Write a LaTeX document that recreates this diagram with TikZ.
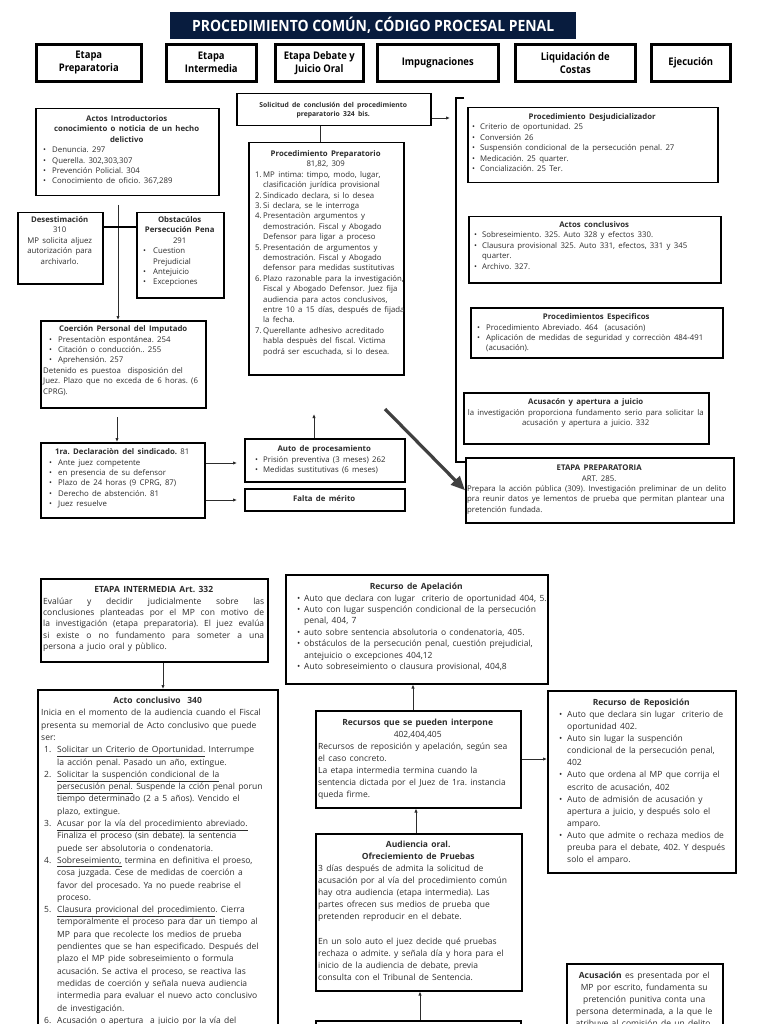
\documentclass[tikz,border=0pt]{standalone}
\usepackage{fontspec}
\setmainfont{Open Sans}
\newfontfamily\condf[FakeStretch=0.9]{Open Sans}
\usetikzlibrary{arrows.meta,calc}
\definecolor{navy}{RGB}{8,28,62}
\definecolor{ink}{RGB}{45,45,45}
\setlength\parindent{0pt}
\setlength\parskip{0pt}
\newcommand\ts{\fontsize{7.8}{10.4}\selectfont\frenchspacing}
\newcommand\bsA{\fontsize{8.5}{12.1}\selectfont\frenchspacing}
\newcommand\bsC{\fontsize{8.5}{12.3}\selectfont\frenchspacing}
\newcommand\bsB{\fontsize{8.5}{11.4}\selectfont\frenchspacing}
\newlength\bi \newlength\bl \newlength\cw \newlength\tw \newlength\bw \newlength\bh
\setlength\bi{4pt}\setlength\bl{9pt}
\newcommand\bul[1]{\par\hangindent=\dimexpr\bi+\bl\relax\hangafter=1\noindent\hspace*{\bi}\makebox[\bl][l]{\textbullet}#1\par}
\newcommand\enu[2]{\par\hangindent=\dimexpr\bi+\bl\relax\hangafter=1\noindent\hspace*{\bi}\makebox[\bl][l]{#1}#2\par}
\newcommand\ctr[1]{\par\noindent\makebox[\cw][c]{#1}\par}
\newcommand\jl[1]{\par\noindent\hbox to\cw{\spaceskip=0.26em plus 1fil\relax #1}\par}
\tikzset{
  frame/.style={draw=black, line width=1.5pt, fill=white, inner sep=0pt, anchor=north west},
  hdr/.style={draw=black, line width=2.6pt, fill=white, anchor=north west, inner sep=0pt,
     minimum height=37pt, align=center, font=\condf\bfseries\fontsize{10.5}{13}\selectfont},
  txt/.style={anchor=north west, inner sep=0pt, align=left, text=ink},
  arr/.style={draw=ink, line width=0.8pt, -{Latex[length=4pt,width=3.4pt]}},
  ln/.style={draw=ink, line width=0.8pt},
  thk/.style={draw=black, line width=1.5pt},
  brk/.style={draw=black, line width=1.6pt},
  big/.style={draw=black!75, line width=3.2pt, -{Triangle[length=14pt,width=12pt]}}
}
% frame box: name, x1, y1, x2, y2
\newcommand\fr[5]{\setlength\bw{\dimexpr#4pt-#2pt\relax}\setlength\bh{\dimexpr#5pt-#3pt\relax}%
  \node[frame, minimum width=\bw, minimum height=\bh] (#1) at (#2,#3) {};}
% text: name, x, y(top), inner width, content
\newcommand\tx[5]{\setlength\tw{\dimexpr#4pt+40pt\relax}%
  \node[txt, text width=\tw] (#1) at (#2,#3) {\setlength\cw{#4pt}#5};}
\begin{document}
\begin{tikzpicture}[x=1pt,y=-1pt]
\useasboundingbox (0,0) rectangle (768,1024);
\fill[white] (0,0) rectangle (768,1024);

% ---------- title and header row
\node[fill=navy, text=white, anchor=north west, minimum width=406pt, minimum height=27pt,
  inner sep=0pt, font=\condf\bfseries\fontsize{15.5}{16}\selectfont] (title) at (170,12)
  {PROCEDIMIENTO COMÚN, CÓDIGO PROCESAL PENAL};
\node[hdr, minimum width=105pt] (h1) at (35,43) {Etapa\\Preparatoria};
\node[hdr, minimum width=90pt]  (h2) at (165,43) {Etapa\\Intermedia};
\node[hdr, minimum width=88pt]  (h3) at (274,43) {Etapa Debate y\\Juicio Oral};
\node[hdr, minimum width=121pt] (h4) at (376,43) {Impugnaciones};
\node[hdr, minimum width=120pt] (h5) at (514,43) {Liquidación de\\Costas};
\node[hdr, minimum width=79pt]  (h6) at (650,43) {Ejecución};

% ---------- left column (top)
\fr{actos}{35}{108}{218}{195}
\tx{actos-t}{39}{111}{175}{\ts\ctr{\textbf{Actos Introductorios}}\ctr{\textbf{conocimiento o noticia de un hecho}}\ctr{\textbf{delictivo}}%
  \setlength\bi{4pt}\setlength\bl{9pt}\bul{Denuncia. 297}\bul{Querella. 302,303,307}\bul{Prevención Policial. 304}\bul{Conocimiento de oficio. 367,289}}

\fr{des}{17}{212}{102}{283}
\tx{des-t}{19}{212}{81}{\ts\ctr{\textbf{Desestimación}}\ctr{310}\ctr{MP solicita aljuez}\ctr{autorización para}\ctr{archivarlo.}}

\fr{obs}{136}{212}{223}{297}
\tx{obs-t}{138}{212}{83}{\ts\ctr{\textbf{Obstacúlos}}\ctr{\textbf{Persecución Pena}}\ctr{291}%
  \setlength\bi{5pt}\setlength\bl{10pt}\bul{Cuestion\newline Prejudicial}\bul{Antejuicio}\bul{Excepciones}}

\fr{coer}{40}{320}{205}{407}
\tx{coer-t}{43}{321}{160}{\ts\ctr{\textbf{Coerción Personal del Imputado}}%
  \setlength\bi{6pt}\setlength\bl{9pt}\bul{Presentaciòn espontánea. 254}\bul{Citación o conducción.. 255}\bul{Aprehensión. 257}%
  Detenido es puestoa\ \ disposición del\newline Juez. Plazo que no exceda de 6 horas. (6\newline CPRG).\par}

\fr{decl}{40}{442}{204}{517}
\tx{decl-t}{43}{444}{158}{\ts\ctr{\textbf{1ra. Declaraciòn del sindicado.} 81}%
  \setlength\bi{6pt}\setlength\bl{9pt}\bul{Ante juez competente}\bul{en presencia de su defensor}\bul{Plazo de 24 horas (9 CPRG, 87)}\bul{Derecho de abstención. 81}\bul{Juez resuelve}}

% ---------- middle column (top)
\fr{sol}{236}{93}{430}{125}
\tx{sol-t}{238}{98}{190}{\fontsize{6.8}{9}\selectfont\frenchspacing\bfseries\ctr{Solicitud de conclusión del procedimiento}\ctr{preparatorio 324 bis.}}

\fr{pp}{248}{142}{403}{374}
\tx{pp-t}{251}{146}{149}{\ts\ctr{\textbf{Procedimiento Preparatorio}}\ctr{81,82, 309}%
  \setlength\bi{4pt}\setlength\bl{8pt}%
  \enu{1.}{MP intima: timpo, modo, lugar,\newline clasificación jurídica provisional}%
  \enu{2.}{Sindicado declara, si lo desea}%
  \enu{3.}{Si declara, se le interroga}%
  \enu{4.}{Presentaciòn argumentos y\newline demostración. Fiscal y Abogado\newline Defensor para ligar a proceso}%
  \enu{5.}{Presentación de argumentos y\newline demostración. Fiscal y Abogado\newline defensor para medidas sustitutivas}%
  \enu{6.}{Plazo razonable para la investigación,\newline Fiscal y Abogado Defensor. Juez fija\newline audiencia para actos conclusivos,\newline entre 10 a 15 días, después de fijada\newline la fecha.}%
  \enu{7.}{Querellante adhesivo acreditado\newline habla despuès del fiscal. Victima\newline podrá ser escuchada, si lo desea.}}

\fr{auto}{244}{438}{404}{481}
\tx{auto-t}{247}{441}{154}{\ts\ctr{\textbf{Auto de procesamiento}}%
  \setlength\bi{8pt}\setlength\bl{8pt}\bul{Prisión preventiva (3 meses) 262}\bul{Medidas sustitutivas (6 meses)}}

\fr{fm}{244}{488}{404}{510}
\tx{fm-t}{247}{491}{154}{\ts\ctr{\textbf{Falta de mérito}}}

% ---------- right column (top)
\fr{dj}{467}{107}{717}{182}
\tx{dj-t}{469}{109}{246}{\ts\ctr{\textbf{Procedimiento Desjudicializador}}%
  \setlength\bi{3pt}\setlength\bl{8pt}\bul{Criterio de oportunidad. 25}\bul{Conversión 26}\bul{Suspensión condicional de la persecución penal. 27}\bul{Medicación. 25 quarter.}\bul{Concialización. 25 Ter.}}

\fr{ac}{468}{216}{720}{282}
\tx{ac-t}{470}{217}{248}{\ts\ctr{\textbf{Actos conclusivos}}%
  \setlength\bi{4pt}\setlength\bl{8pt}\bul{Sobreseimiento. 325. Auto 328 y efectos 330.}\bul{Clausura provisional 325. Auto 331, efectos, 331 y 345\newline quarter.}\bul{Archivo. 327.}}

\fr{pe}{470}{307}{722}{357}
\tx{pe-t}{472}{309}{248}{\ts\ctr{\textbf{Procedimientos Especificos}}%
  \setlength\bi{5pt}\setlength\bl{9pt}\bul{Procedimiento Abreviado. 464\ \ (acusación)}\bul{Aplicación de medidas de seguridad y correcciòn 484-491\newline (acusación).}}

\fr{aa}{463}{392}{708}{443}
\tx{aa-t}{465}{394}{241}{\ts\ctr{\textbf{Acusacón y apertura a juicio}}\ctr{la investigación proporciona fundamento serio para solicitar la}\ctr{acusación y apertura a juicio. 332}}

\fr{ep}{465}{457}{733}{522}
\tx{ep-t}{467}{460}{264}{\ts\ctr{\textbf{ETAPA PREPARATORIA}}\ctr{ART. 285.}%
  Prepara la acción pública (309). Investigación preliminar de un delito\newline pra reunir datos ye lementos de prueba que permitan plantear una\newline pretención fundada.\par}

% ---------- connectors (top)
\coordinate (v1) at (118,205);
\draw[arr] (v1) -- (v1 |- coer.north);
\coordinate (hy) at (0,227);
\draw[thk] (des.east |- hy) -- (obs.west |- hy);
\coordinate (v2) at (117,417);
\draw[arr] (v2) -- (v2 |- decl.north);
\coordinate (r1) at (237,463);
\coordinate (r2) at (237,500);
\draw[arr] (decl.east |- r1) -- (r1);
\draw[arr] (decl.east |- r2) -- (r2);
\coordinate (u1) at (314,414);
\draw[arr] (u1 |- auto.north) -- (u1);
\coordinate (s1) at (320,0);
\draw[ln] (sol.south -| s1) -- (pp.north -| s1);
\coordinate (bt) at (464,98);
\coordinate (bb) at (456,462);
\draw[brk] (bt) -- (bt -| bb) -- (bb) -- (bb -| ep.west);
\coordinate (sy) at (0,118);
\coordinate (se) at (450,118);
\draw[arr] (sol.east |- sy) -- (se);
\coordinate (bs) at (385,409);
\draw[big] (bs) -- (ep.west);

% ---------- bottom half
\fr{ei}{40}{578}{267}{661}
\tx{ei-t}{43}{581}{221}{\bsB\ctr{\textbf{ETAPA INTERMEDIA Art. 332}}%
  \jl{Evalúar y decidir judicialmente sobre las}\jl{conclusiones planteadas por el MP con motivo de}\jl{la investigación (etapa preparatoria). El juez evalúa}\jl{si existe o no fundamento para someter a una}persona a jucio oral y pùblico.\par}

\fr{acto}{37}{689}{277}{1045}
\tx{acto-t}{41}{691}{233}{\bsC\ctr{\textbf{Acto conclusivo\ \ 340}}%
  Inicia en el momento de la audiencia cuando el Fiscal\newline presenta su memorial de Acto conclusivo que puede\newline ser:\par
  \setlength\bi{3pt}\setlength\bl{13pt}%
  \enu{1.}{\underline{Solicitar un Criterio de Oportunidad.} Interrumpe\newline la acción penal. Pasado un año, extingue.}%
  \enu{2.}{\underline{Solicitar la suspención condicional de la}\newline \underline{persecusión penal.} Suspende la cción penal porun\newline tiempo determinado (2 a 5 años). Vencido el\newline plazo, extingue.}%
  \enu{3.}{\underline{Acusar por la vía del procedimiento abreviado.}\newline Finaliza el proceso (sin debate). la sentencia\newline puede ser absolutoria o condenatoria.}%
  \enu{4.}{\underline{Sobreseimiento,} termina en definitiva el proeso,\newline cosa juzgada. Cese de medidas de coerción a\newline favor del procesado. Ya no puede reabrise el\newline proceso.}%
  \enu{5.}{\underline{Clausura provicional del procedimiento}. Cierra\newline temporalmente el proceso para dar un tiempo al\newline MP para que recolecte los medios de prueba\newline pendientes que se han especificado. Después del\newline plazo el MP pide sobreseimiento o formula\newline acusación. Se activa el proceso, se reactiva las\newline medidas de coerción y señala nueva audiencia\newline intermedia para evaluar el nuevo acto conclusivo\newline de investigación.}%
  \enu{6.}{Acusación o apertura\ \ a juicio por la vía del}}

\fr{ap}{285}{574}{547}{683}
\tx{ap-t}{288}{578}{256}{\bsB\ctr{\textbf{Recurso de Apelación}}%
  \setlength\bi{9pt}\setlength\bl{7pt}%
  \bul{Auto que declara con lugar\ \ criterio de oportunidad 404, 5.}%
  \bul{Auto con lugar suspención condicional de la persecución\newline penal, 404, 7}%
  \bul{auto sobre sentencia absolutoria o condenatoria, 405.}%
  \bul{obstáculos de la persecución penal, cuestión prejudicial,\newline antejuicio o excepciones 404,12}%
  \bul{Auto sobreseimiento o clausura provisional, 404,8}}

\fr{rec}{315}{710}{520}{807}
\tx{rec-t}{318}{713}{199}{\bsA\ctr{\textbf{Recursos que se pueden interpone}}\ctr{402,404,405}%
  Recursos de reposición y apelación, según sea\newline el caso concreto.\newline La etapa intermedia termina cuando la\newline sentencia dictada por el Juez de 1ra. instancia\newline queda firme.\par}

\fr{rp}{547}{690}{735}{872}
\tx{rp-t}{550}{693}{182}{\bsA\ctr{\textbf{Recurso de Reposición}}%
  \setlength\bi{9pt}\setlength\bl{8pt}%
  \bul{Auto que declara sin lugar\ \ criterio de\newline oportunidad 402.}%
  \bul{Auto sin lugar la suspención\newline condicional de la persecución penal,\newline 402}%
  \bul{Auto que ordena al MP que corrija el\newline escrito de acusación, 402}%
  \bul{Auto de admisión de acusación y\newline apertura a juicio, y después solo el\newline amparo.}%
  \bul{Auto que admite o rechaza medios de\newline preuba para el debate, 402. Y después\newline solo el amparo.}}

\fr{au}{315}{833}{521}{990}
\tx{au-t}{318}{835}{200}{\bsA\ctr{\textbf{Audiencia oral.}}\ctr{\textbf{Ofreciemiento de Pruebas}}%
  3 días después de admita la solicitud de\newline acusación por al vía del procedimiento común\newline hay otra audiencia (etapa intermedia). Las\newline partes ofrecen sus medios de prueba que\newline pretenden reproducir en el debate.\par
  \mbox{}\par
  En un solo auto el juez decide qué pruebas\newline rechaza o admite. y señala día y hora para el\newline inicio de la audiencia de debate, previa\newline consulta con el Tribunal de Sentencia.\par}

\fr{deb}{315}{1020}{520}{1045}

\fr{acu}{566}{963}{722}{1045}
\tx{acu-t}{568}{966}{152}{\bsA\ctr{\textbf{Acusación} es presentada por el}\ctr{MP por escrito, fundamenta su}\ctr{pretención punitiva conta una}\ctr{persona determinada, a la que le}\ctr{atribuye al comisión de un delito.}}

% ---------- connectors (bottom)
\coordinate (c1) at (163,0);
\draw[arr] (ei.south -| c1) -- (acto.north -| c1);
\coordinate (c2) at (413,0);
\draw[arr] (rec.north -| c2) -- (ap.south -| c2);
\coordinate (c3) at (0,759);
\draw[arr] (rec.east |- c3) -- (rp.west |- c3);
\coordinate (c4) at (416,0);
\draw[arr] (au.north -| c4) -- (rec.south -| c4);
\coordinate (c5) at (420,0);
\draw[arr] (deb.north -| c5) -- (au.south -| c5);
\end{tikzpicture}
\end{document}
